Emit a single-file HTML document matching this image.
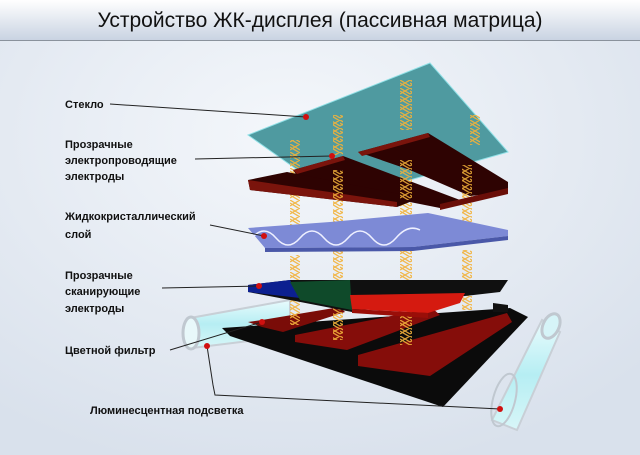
<!DOCTYPE html>
<html><head><meta charset="utf-8"><style>
body{margin:0;width:640px;height:455px;overflow:hidden;background:#e2e8f1;font-family:"Liberation Sans",sans-serif}
svg{display:block}
</style></head><body>
<svg width="640" height="455" viewBox="0 0 640 455" xmlns="http://www.w3.org/2000/svg">
<defs>
<linearGradient id="hd" x1="0" y1="0" x2="0" y2="1"><stop offset="0" stop-color="#ffffff"/><stop offset="1" stop-color="#c9d3e2"/></linearGradient>
<radialGradient id="bg" cx="0.45" cy="0.3" r="0.75"><stop offset="0" stop-color="#f4f7fb"/><stop offset="1" stop-color="#d9e1ec"/></radialGradient>
<linearGradient id="tube" x1="0" y1="0" x2="0" y2="1"><stop offset="0" stop-color="#e9fbfd"/><stop offset="0.5" stop-color="#b6eef3"/><stop offset="1" stop-color="#d8f6f8"/></linearGradient>
<pattern id="hx" width="10" height="8" patternUnits="userSpaceOnUse">
<path d="M0 0 L10 6 M0 3 L10 9 M10 0 L0 6" stroke="#f2b23a" stroke-width="1.3" fill="none"/>
</pattern>
</defs>
<rect x="0" y="0" width="640" height="455" fill="url(#bg)"/>
<rect x="0" y="0" width="640" height="40" fill="url(#hd)"/>
<line x1="0" y1="40.5" x2="640" y2="40.5" stroke="#8a929c"/>
<text x="320" y="27" font-size="21" text-anchor="middle" fill="#111">Устройство ЖК-дисплея (пассивная матрица)</text>

<!-- left tube -->
<path d="M190 318 L290 300 L290 336 L192 348 Z" fill="url(#tube)" stroke="#c8cfd6" stroke-width="2"/>
<ellipse cx="191" cy="333" rx="8" ry="16" fill="#e8f8fa" stroke="#c0c8d0" stroke-width="3"/>
<!-- base black -->
<polygon points="222,328 510,308 528,317 443,407 230,336" fill="#0b0b0b"/>
<polygon points="493,303 508,305 508,312 493,312" fill="#111"/>
<!-- red filter bars -->
<polygon points="248,322 262,320 340,307 345,312 283,332 262,327" fill="#7a0c08"/>
<polygon points="295,335 432,308 440,315 347,350 295,342" fill="#850d0a"/>
<polygon points="358,355 507,313 512,322 430,376 358,366" fill="#850d0a"/>
<!-- helices lower -->
<g fill="url(#hx)" opacity="0.9">
<rect x="290" y="255" width="10" height="70"/><rect x="333" y="250" width="10" height="90"/>
<rect x="400" y="250" width="12" height="95"/><rect x="462" y="250" width="10" height="60"/>
</g>
<!-- scanning electrodes -->
<polygon points="248,285 290,280 508,280 500,292 430,300 352,312 290,300 248,292" fill="#101010"/>
<polygon points="248,285 290,280 300,298 248,292" fill="#0c2090"/>
<polygon points="290,282 350,280 352,310 300,300" fill="#0f4a2a"/>
<polygon points="350,295 465,293 460,303 428,313 352,309" fill="#d51a10"/>
<polygon points="352,309 428,313 428,318 352,313" fill="#9a0e08"/>
<!-- right tube -->
<path d="M542 320 L560 332 L517 430 L492 420 Z" fill="url(#tube)" stroke="#c8cfd6" stroke-width="2"/>
<ellipse cx="551" cy="326" rx="8" ry="13" transform="rotate(25 551 326)" fill="#d6f4f8" stroke="#c0c8d0" stroke-width="3"/>
<ellipse cx="504" cy="400" rx="11" ry="27" transform="rotate(15 504 400)" fill="none" stroke="#c0c8d0" stroke-width="2"/>
<!-- helices middle -->
<g fill="url(#hx)" opacity="0.9">
<rect x="290" y="195" width="10" height="40"/><rect x="333" y="195" width="10" height="30"/>
<rect x="400" y="200" width="12" height="30"/><rect x="462" y="195" width="10" height="35"/>
</g>
<!-- LC layer -->
<polygon points="248,228 330,222 428,213 508,230 508,236 413,247 265,248" fill="#7d8ad6"/>
<path d="M252 238 q12 -14 24 0 t24 0 t24 0 t24 0 t24 0 t24 0 t24 -8" fill="none" stroke="#eef0ff" stroke-width="1.5"/>
<polygon points="265,248 413,247 508,236 508,240 413,251 265,252" fill="#4a58a8"/>
<!-- glass -->
<polygon points="248,135 430,63 508,152 340,200" fill="#4f9aa0" stroke="#8fe0e6" stroke-width="1"/>
<g fill="url(#hx)" opacity="0.9">
<rect x="290" y="140" width="10" height="50"/><rect x="333" y="115" width="10" height="40"/>
<rect x="400" y="80" width="12" height="50"/><rect x="470" y="115" width="10" height="30"/>
</g>
<!-- electrodes dark red -->
<polygon points="358,152 428,133 508,182 508,192 470,196 410,170" fill="#2e0302"/>
<polygon points="358,152 428,133 430,137 362,156" fill="#7a140c"/>
<polygon points="293,170 343,156 460,200 440,208 300,180" fill="#2e0302"/>
<polygon points="293,170 343,156 345,160 297,174" fill="#7a140c"/>
<polygon points="248,180 287,172 420,198 397,207 250,190" fill="#2e0302"/>
<polygon points="248,180 397,202 397,207 250,190" fill="#7a140c"/>
<polygon points="440,204 508,188 508,194 440,210" fill="#6a0e08"/>
<g fill="url(#hx)" opacity="0.85">
<rect x="333" y="170" width="10" height="30"/><rect x="400" y="160" width="12" height="40"/><rect x="462" y="165" width="10" height="30"/>
</g>
<!-- callouts -->
<g stroke="#222" stroke-width="1" fill="none">
<line x1="110" y1="104" x2="306" y2="117"/>
<line x1="195" y1="159" x2="332" y2="156"/>
<line x1="210" y1="225" x2="264" y2="236"/>
<line x1="162" y1="288" x2="259" y2="286"/>
<line x1="170" y1="350" x2="262" y2="322"/>
<polyline points="207,346 213,385 215,395 500,409"/>
</g>
<g fill="#d01010">
<circle cx="306" cy="117" r="3"/><circle cx="332" cy="156" r="3"/><circle cx="264" cy="236" r="3"/>
<circle cx="259" cy="286" r="3"/><circle cx="262" cy="322" r="3"/><circle cx="207" cy="346" r="3"/><circle cx="500" cy="409" r="3"/>
</g>
<g font-size="11" font-weight="bold" fill="#111">
<text x="65" y="108">Стекло</text>
<text x="65" y="148">Прозрачные</text>
<text x="65" y="164">электропроводящие</text>
<text x="65" y="180">электроды</text>
<text x="65" y="220">Жидкокристаллический</text>
<text x="65" y="238">слой</text>
<text x="65" y="279">Прозрачные</text>
<text x="65" y="295">сканирующие</text>
<text x="65" y="312">электроды</text>
<text x="65" y="354">Цветной фильтр</text>
<text x="90" y="414">Люминесцентная подсветка</text>
</g>
</svg>
</body></html>
